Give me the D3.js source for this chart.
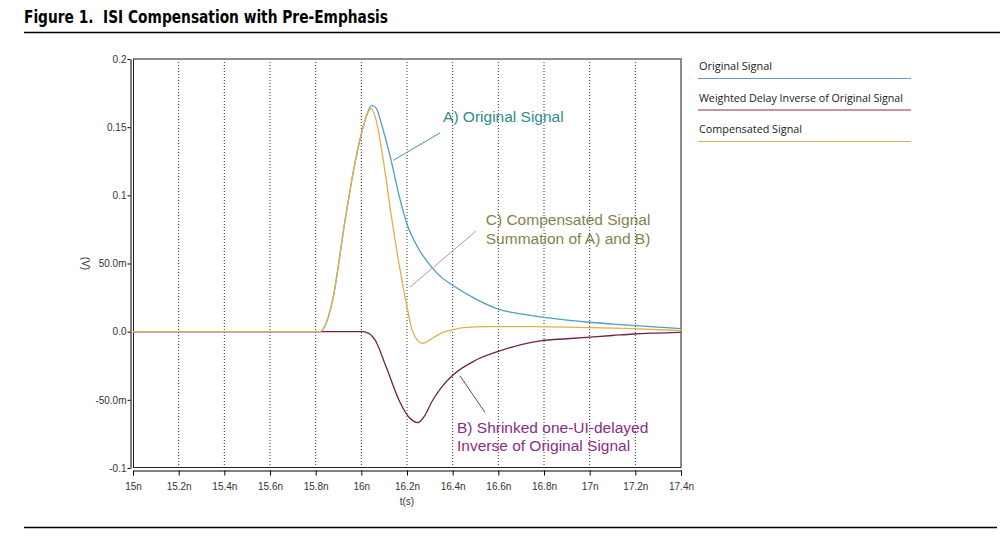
<!DOCTYPE html>
<meta charset="utf-8">
<script src="https://d3js.org/d3.v7.min.js"></script>

<style>
  body { margin: 0; background: #fff; }
</style>

<div id="my_dataviz"></div>

<script>

// x ticks (ns) and their labels
var xTicks = [15, 15.2, 15.4, 15.6, 15.8, 16, 16.2, 16.4, 16.6, 16.8, 17, 17.2, 17.4];
var xTickLabels = ["15n", "15.2n", "15.4n", "15.6n", "15.8n", "16n", "16.2n", "16.4n", "16.6n", "16.8n", "17n", "17.2n", "17.4n"];

// y ticks (V) and their labels
var yTicks = [0.2, 0.15, 0.1, 0.05, 0, -0.05, -0.1];
var yTickLabels = ["0.2", "0.15", "0.1", "50.0m", "0.0", "-50.0m", "-0.1"];

// A) original signal
var tOriginal = [15, 15.8, 15.82, 15.84, 15.874, 15.93, 15.97, 16.0, 16.02, 16.045, 16.065, 16.087, 16.13, 16.165, 16.2, 16.25, 16.31, 16.35, 16.4, 16.5, 16.6, 16.7, 16.8, 16.9, 17.0, 17.1, 17.2, 17.3, 17.4];
var vOriginal = [0, 0, 0, 0.004, 0.023, 0.083, 0.122, 0.145, 0.157, 0.166, 0.164, 0.153, 0.126, 0.1, 0.079, 0.061, 0.047, 0.04, 0.034, 0.024, 0.0165, 0.013, 0.0105, 0.0085, 0.0069, 0.0056, 0.0044, 0.0033, 0.0022];

// B) weighted delay inverse of original signal
var tDelayed = [15, 15.8, 16.0, 16.03, 16.06, 16.109, 16.167, 16.21, 16.247, 16.28, 16.31, 16.35, 16.4, 16.5, 16.6, 16.7, 16.79, 16.9, 17.0, 17.1, 17.19, 17.3, 17.4];
var vDelayed = [0, 0, 0, -0.001, -0.006, -0.026, -0.051, -0.063, -0.0667, -0.061, -0.051, -0.041, -0.032, -0.021, -0.0145, -0.0095, -0.0066, -0.0052, -0.004, -0.0028, -0.0017, -0.001, -0.0005];

// C) compensated signal
var tCompensated = [15, 15.8, 15.82, 15.84, 15.874, 15.93, 15.97, 16.0, 16.02, 16.043, 16.065, 16.096, 16.133, 16.169, 16.198, 16.225, 16.268, 16.3, 16.35, 16.39, 16.45, 16.55, 16.75, 17.0, 17.19, 17.4];
var vCompensated = [0, 0, 0, 0.004, 0.023, 0.083, 0.122, 0.145, 0.157, 0.1638, 0.155, 0.126, 0.083, 0.046, 0.02, 0.0, -0.0086, -0.006, -0.001, 0.001, 0.003, 0.0037, 0.0037, 0.003, 0.0022, 0.0007];

var legendLabels = ["Original Signal", "Weighted Delay Inverse of Original Signal", "Compensated Signal"];

var width = 1006, height = 547;

var svg = d3.select("#my_dataviz")
  .append("svg")
    .attr("width", width)
    .attr("height", height);

// plot box
var x = d3.scaleLinear().domain([15, 17.4]).range([133, 681]);
var y = d3.scaleLinear().domain([-0.1, 0.2]).range([468, 59]);

// title + rules
svg.append("text")
  .attr("x", 24)
  .attr("y", 23)
  .attr("textLength", 364)
  .attr("lengthAdjust", "spacingAndGlyphs")
  .style("white-space", "pre")
  .style("font-family", "'Liberation Sans Narrow', 'DejaVu Sans Condensed', sans-serif")
  .style("font-weight", "bold")
  .style("font-size", "18.5px")
  .text("Figure 1.  ISI Compensation with Pre-Emphasis");

svg.append("line")
  .attr("x1", 24).attr("x2", 1000)
  .attr("y1", 32.5).attr("y2", 32.5)
  .attr("stroke", "black").attr("stroke-width", 1.5);

svg.append("line")
  .attr("x1", 24).attr("x2", 997)
  .attr("y1", 527.5).attr("y2", 527.5)
  .attr("stroke", "black").attr("stroke-width", 1.5);

// dotted vertical grid
svg.selectAll("gridline")
  .data(xTicks.slice(1, -1))
  .enter()
  .append("line")
    .attr("x1", function(d) { return x(d); })
    .attr("x2", function(d) { return x(d); })
    .attr("y1", y(0.2))
    .attr("y2", y(-0.1))
    .attr("stroke", "#333")
    .attr("stroke-width", 1)
    .attr("stroke-dasharray", "1,2");

// frame: top and right grey, left and bottom black
svg.append("line")
  .attr("x1", x(15)).attr("x2", x(17.4) + 1)
  .attr("y1", y(0.2)).attr("y2", y(0.2))
  .attr("stroke", "#8c8c8c").attr("stroke-width", 2);
svg.append("line")
  .attr("x1", x(17.4)).attr("x2", x(17.4))
  .attr("y1", y(0.2)).attr("y2", y(-0.1))
  .attr("stroke", "#8c8c8c").attr("stroke-width", 2);
svg.append("line")
  .attr("x1", x(15) + 0.5).attr("x2", x(15) + 0.5)
  .attr("y1", y(0.2)).attr("y2", y(-0.1))
  .attr("stroke", "#222").attr("stroke-width", 1);
svg.append("line")
  .attr("x1", x(15)).attr("x2", x(17.4))
  .attr("y1", y(-0.1) - 0.5).attr("y2", y(-0.1) - 0.5)
  .attr("stroke", "#222").attr("stroke-width", 1);

// x axis
var xAxis = svg.append("g")
  .attr("transform", "translate(0," + (y(-0.1) + 2.5) + ")")
  .call(d3.axisBottom(x)
    .tickValues(xTicks)
    .tickSize(5)
    .tickSizeOuter(5)
    .tickFormat(function(d, i) { return xTickLabels[i]; }));
xAxis.selectAll("text")
  .attr("dy", "1.1em")
  .style("font-family", "'Liberation Sans', Arial, sans-serif")
  .style("font-size", "10px")
  .style("fill", "#333");

// y axis
var yAxis = svg.append("g")
  .attr("transform", "translate(" + (x(15) - 2.5) + ",0)")
  .call(d3.axisLeft(y)
    .tickValues(yTicks)
    .tickSize(3)
    .tickSizeOuter(0)
    .tickFormat(function(d, i) { return yTickLabels[i]; }));
yAxis.selectAll("text")
  .attr("x", -4)
  .style("font-family", "'Liberation Sans', Arial, sans-serif")
  .style("font-size", "10px")
  .style("fill", "#333");

// axis titles
svg.append("text")
  .attr("x", x(16.2))
  .attr("y", 505)
  .attr("text-anchor", "middle")
  .style("font-family", "'Liberation Sans', Arial, sans-serif")
  .style("font-size", "10px")
  .style("fill", "#333")
  .text("t(s)");

svg.append("text")
  .attr("transform", "translate(82," + y(0.05) + ") rotate(90)")
  .attr("text-anchor", "middle")
  .style("font-family", "'Liberation Sans', Arial, sans-serif")
  .style("font-size", "10px")
  .style("fill", "#333")
  .text("(V)");

// curves
var series = [
  {t: tOriginal, v: vOriginal, color: "#4f9cc4"},
  {t: tDelayed, v: vDelayed, color: "#6e2250"},
  {t: tCompensated, v: vCompensated, color: "#e4ae4c"}
];

var line = d3.line()
  .x(function(d) { return x(d[0]); })
  .y(function(d) { return y(d[1]); })
  .curve(d3.curveMonotoneX);

svg.selectAll("curve")
  .data(series)
  .enter()
  .append("path")
    .attr("d", function(s) { return line(s.t.map(function(t, i) { return [t, s.v[i]]; })); })
    .attr("fill", "none")
    .attr("stroke", function(s) { return s.color; })
    .attr("stroke-width", 1.3);

// annotations (positions in data units)
var notes = [
  {lines: ["A) Original Signal"], t: 16.358, v: 0.1537, color: "#2f8c8c",
   from: [16.14, 0.1257], to: [16.345, 0.1458], lead: "#4a8fae"},
  {lines: ["C) Compensated Signal", "Summation of A) and B)"], t: 16.545, v: 0.078, color: "#86824e",
   from: [16.213, 0.0326], to: [16.502, 0.0738], lead: "#a5a482"},
  {lines: ["B) Shrinked one-UI-delayed", "Inverse of Original Signal"], t: 16.419, v: -0.0743, color: "#8a2c88",
   from: [16.432, -0.0324], to: [16.542, -0.0593], lead: "#7a3a66"}
];

notes.forEach(function(n) {
  svg.append("line")
    .attr("x1", x(n.from[0])).attr("y1", y(n.from[1]))
    .attr("x2", x(n.to[0])).attr("y2", y(n.to[1]))
    .attr("stroke", n.lead)
    .attr("stroke-width", 1);
  var txt = svg.append("text")
    .attr("x", x(n.t))
    .attr("y", y(n.v))
    .style("font-family", "'Liberation Sans', Arial, sans-serif")
    .style("font-size", "15.5px")
    .style("fill", n.color);
  n.lines.forEach(function(l, i) {
    txt.append("tspan")
      .attr("x", x(n.t))
      .attr("dy", i === 0 ? 0 : 18.5)
      .text(l);
  });
});

// legend
var legendColors = ["#5e9db4", "#8a2c3e", "#e0b25e"];
var legendWidths = [73, 204, 103];
var legend = svg.selectAll("legend")
  .data(legendLabels)
  .enter()
  .append("g")
    .attr("transform", function(d, i) { return "translate(698," + (70 + i * 31.5) + ")"; });

legend.append("text")
  .attr("x", 1)
  .attr("y", 0)
  .attr("textLength", function(d, i) { return legendWidths[i]; })
  .attr("lengthAdjust", "spacingAndGlyphs")
  .style("font-family", "'Open Sans', 'Noto Sans', sans-serif")
  .style("font-size", "10.5px")
  .style("fill", "#1a1a1a")
  .text(function(d) { return d; });

legend.append("line")
  .attr("x1", 0).attr("x2", 213)
  .attr("y1", 8.5).attr("y2", 8.5)
  .attr("stroke", function(d, i) { return legendColors[i]; })
  .attr("stroke-width", 1.2);

</script>
